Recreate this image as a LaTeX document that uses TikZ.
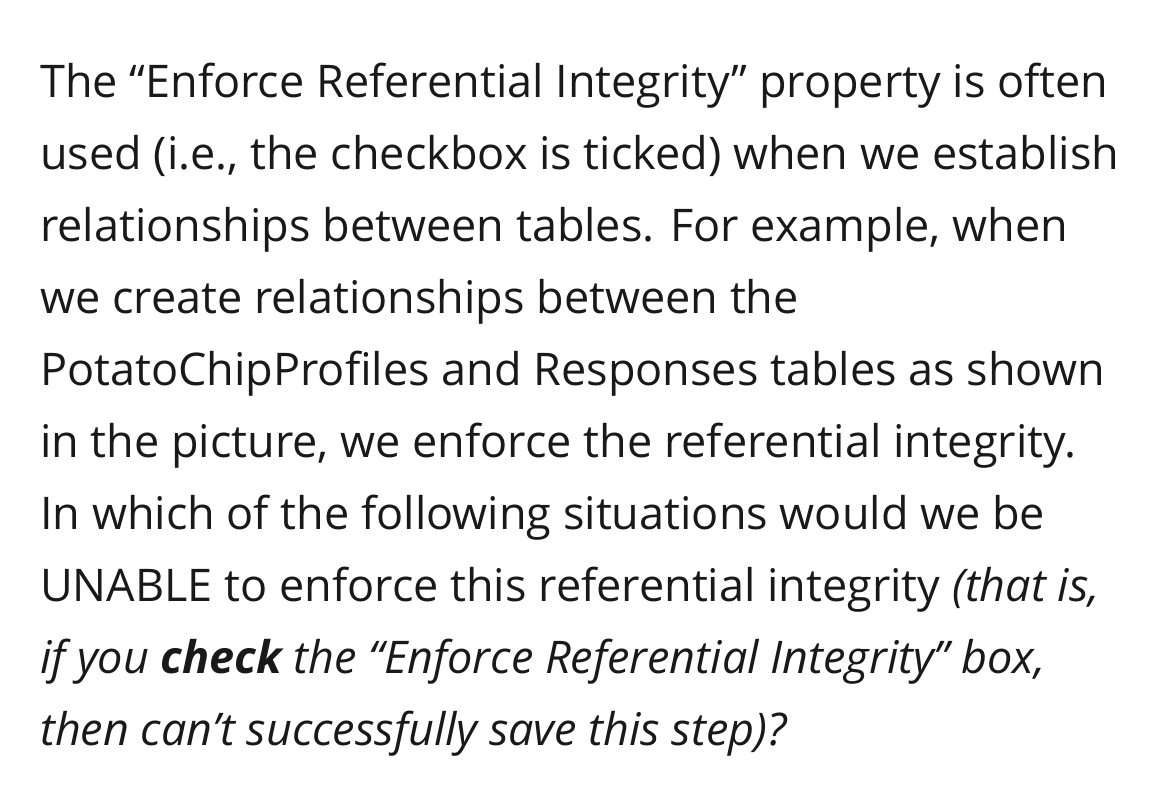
\documentclass[tikz,border=0pt]{standalone}
\usepackage{fontspec}
\setmainfont{Open Sans}
\begin{document}
\begin{tikzpicture}[x=1pt,y=-1pt,
  ln/.style={anchor=base west,inner sep=0pt,font=\fontsize{45}{54}\selectfont,text=black!90}]
\useasboundingbox (0,0) rectangle (1165,787);
\node[ln] (l1) at (40,97) {The “Enforce Referential Integrity” property is often};
\node[ln] (l2) at (40,169) {used (i.e., the checkbox is ticked) when we establish};
\node[ln] (l3) at (40,241) {relationships between tables. For example, when};
\node[ln] (l4) at (40,313) {we create relationships between the};
\node[ln] (l5) at (40,385) {PotatoChipProfiles and Responses tables as shown};
\node[ln] (l6) at (40,457) {in the picture, we enforce the referential integrity.};
\node[ln] (l7) at (40,529) {In which of the following situations would we be};
\node[ln] (l8) at (40,601) {UNABLE to enforce this referential integrity \textit{(that is,}};
\node[ln] (l9) at (40,673) {\textit{if you \textbf{check} the “Enforce Referential Integrity” box,}};
\node[ln] (l10) at (40,745) {\textit{then can’t successfully save this step)?}};
\end{tikzpicture}
\end{document}
